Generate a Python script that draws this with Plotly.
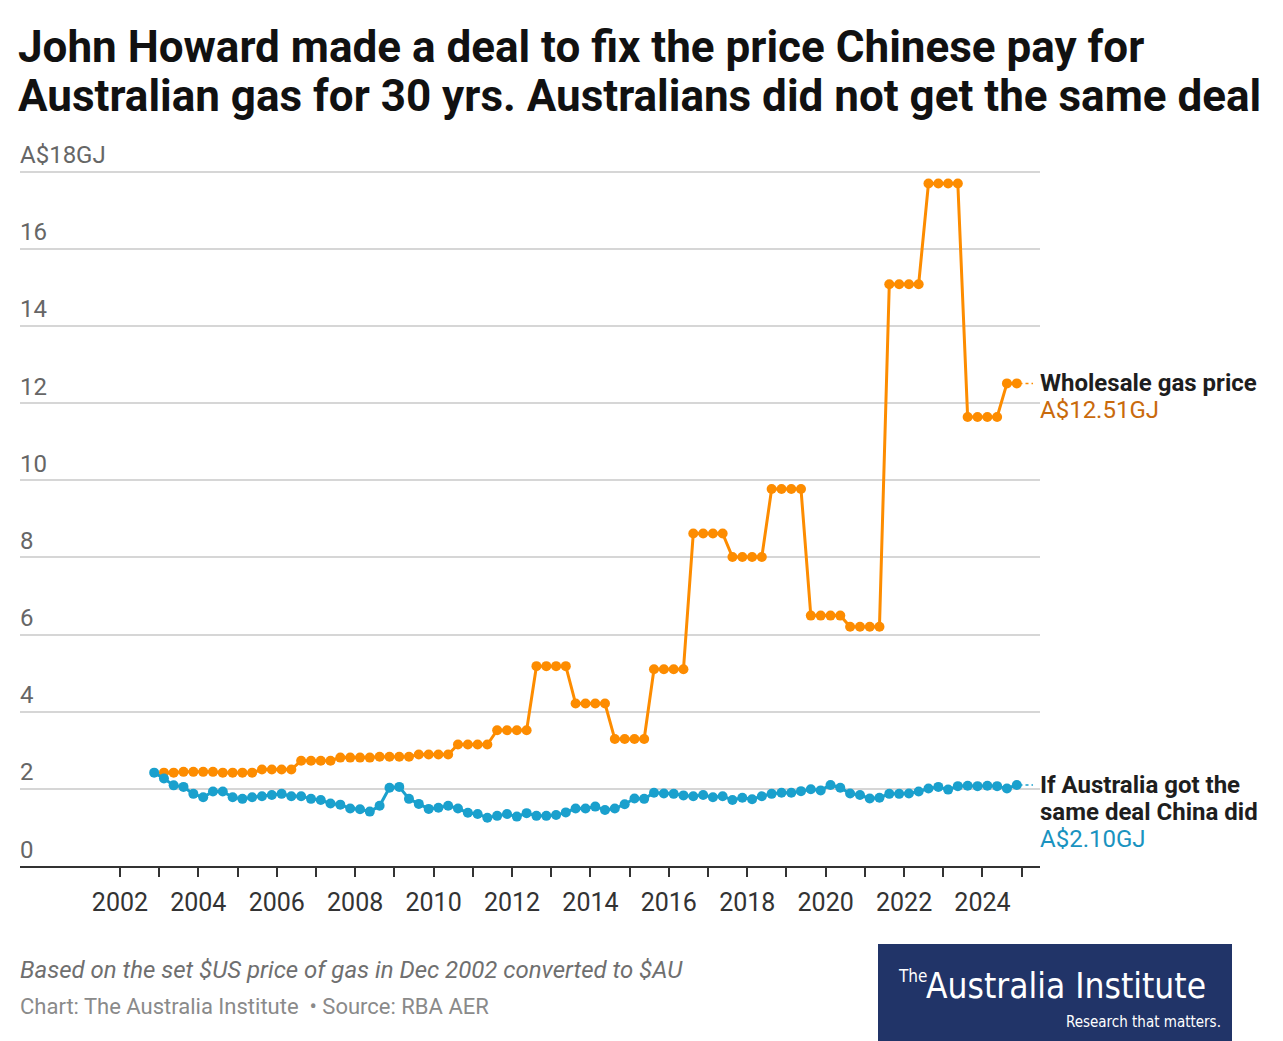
import pandas as pd
import plotly.graph_objects as go

# ---- data ----
# quarterly observations, Dec-quarter 2002 .. Dec-quarter 2024 (plotted at mid-quarter)
quarters = pd.period_range("2002Q4", "2024Q4", freq="Q")

china_deal_price = [
    2.42, 2.27, 2.09, 2.05, 1.87, 1.78, 1.93, 1.93, 1.78, 1.74,
    1.78, 1.81, 1.84, 1.87, 1.81, 1.81, 1.74, 1.71, 1.62, 1.59,
    1.49, 1.47, 1.41, 1.56, 2.03, 2.05, 1.74, 1.61, 1.48, 1.51,
    1.56, 1.49, 1.38, 1.35, 1.25, 1.30, 1.35, 1.28, 1.37, 1.30,
    1.30, 1.32, 1.39, 1.49, 1.49, 1.54, 1.45, 1.49, 1.60, 1.75,
    1.74, 1.90, 1.88, 1.87, 1.83, 1.81, 1.84, 1.78, 1.81, 1.71,
    1.77, 1.73, 1.81, 1.87, 1.90, 1.90, 1.94, 1.99, 1.96, 2.10,
    2.03, 1.88, 1.84, 1.75, 1.77, 1.87, 1.87, 1.88, 1.93, 2.01,
    2.05, 1.98, 2.07, 2.08, 2.07, 2.08, 2.07, 2.01, 2.10,
]

# wholesale price starts one quarter later (Mar-quarter 2003)
wholesale_price = [
    2.42, 2.42,
    2.44, 2.44, 2.44, 2.44,
    2.42, 2.42, 2.42, 2.42,
    2.50, 2.50, 2.50, 2.50,
    2.73, 2.73, 2.73, 2.73,
    2.81, 2.81, 2.81, 2.81,
    2.83, 2.83, 2.83, 2.83,
    2.89, 2.89, 2.89, 2.89,
    3.15, 3.15, 3.15, 3.15,
    3.52, 3.52, 3.52, 3.52,
    5.18, 5.18, 5.18, 5.18,
    4.21, 4.21, 4.21, 4.21,
    3.29, 3.29, 3.29, 3.29,
    5.10, 5.10, 5.10, 5.10,
    8.62, 8.62, 8.62, 8.62,
    8.01, 8.01, 8.01, 8.01,
    9.77, 9.77, 9.77, 9.77,
    6.49, 6.49, 6.49, 6.49,
    6.20, 6.20, 6.20, 6.20,
    15.08, 15.08, 15.08, 15.08,
    17.69, 17.69, 17.69, 17.69,
    11.64, 11.64, 11.64, 11.64,
    12.51, 12.51,
]

y_tick_values = [0, 2, 4, 6, 8, 10, 12, 14, 16, 18]
y_tick_labels = ["0", "2", "4", "6", "8", "10", "12", "14", "16", "A$18GJ"]

x_tick_years = list(range(2002, 2026))
x_tick_labels = [str(y) if y % 2 == 0 else "" for y in x_tick_years]

title_lines = [
    "John Howard made a deal to fix the price Chinese pay for",
    "Australian gas for 30 yrs. Australians did not get the same deal",
]

ORANGE = "#fd8c00"
ORANGE_TXT = "#c96a0c"
BLUE = "#1aa0cd"
BLUE_TXT = "#1a93c0"
FONT = "Roboto, Arial, sans-serif"

# pixel helpers (plot area: x 20..1040, y top 133 .. bottom 866)
TOP = 133
PLOT_H = 1041 - TOP - 175
def py2paper(py):
    return (866 - py) / PLOT_H

def px2paper(px):
    return (px - 20) / 1020

# ---- dates ----
def mid_quarter(p):
    return p.start_time + (p.end_time - p.start_time) / 2

blue_dates = [mid_quarter(p) for p in quarters]
orange_dates = blue_dates[1:]

fig = go.Figure()

fig.add_trace(go.Scatter(
    x=orange_dates, y=wholesale_price, mode="lines+markers",
    line=dict(color=ORANGE, width=3), marker=dict(color=ORANGE, size=10),
    name="Wholesale gas price", cliponaxis=False,
))
fig.add_trace(go.Scatter(
    x=blue_dates, y=china_deal_price, mode="lines+markers",
    line=dict(color=BLUE, width=3), marker=dict(color=BLUE, size=10),
    name="If Australia got the same deal China did", cliponaxis=False,
))

# dotted connectors to the labels
conn_end = blue_dates[-1] + pd.DateOffset(months=5)
for dates, vals, col in [(orange_dates, wholesale_price, ORANGE), (blue_dates, china_deal_price, BLUE)]:
    fig.add_trace(go.Scatter(
        x=[dates[-1] + pd.DateOffset(days=25), conn_end], y=[vals[-1], vals[-1]],
        mode="lines", line=dict(color=col, width=1.5, dash="dot"),
        hoverinfo="skip", cliponaxis=False,
    ))

# ---- right-hand labels ----
LINE = 27
def label(lines, yval):
    for i, (txt, col, bold) in enumerate(lines):
        fig.add_annotation(
            x=1, xref="paper", xanchor="left", y=yval, yref="y", yanchor="middle",
            yshift=-LINE * i, showarrow=False, xshift=-2,
            text=f"<b>{txt}</b>" if bold else txt,
            font=dict(family=FONT, size=24, color=col),
        )

label([("Wholesale gas price", "#1e1e1e", True),
       (f"A${wholesale_price[-1]:.2f}GJ", ORANGE_TXT, False)], wholesale_price[-1])
label([("If Australia got the", "#1e1e1e", True),
       ("same deal China did", "#1e1e1e", True),
       (f"A${china_deal_price[-1]:.2f}GJ", BLUE_TXT, False)], china_deal_price[-1])

# ---- title ----
for i, t in enumerate(title_lines):
    fig.add_annotation(x=0, xref="paper", xanchor="left", y=py2paper(47 + 49 * i), yref="paper",
                       yanchor="middle", showarrow=False, text=f"<b>{t}</b>", xshift=-4,
                       font=dict(family=FONT, size=44, color="#111111"))

# ---- footer ----
fig.add_annotation(x=0, xref="paper", xanchor="left", y=py2paper(970), yref="paper", yanchor="middle",
                   showarrow=False, text="<i>Based on the set $US price of gas in Dec 2002 converted to $AU</i>",
                   xshift=-2, font=dict(family=FONT, size=24, color="#6f6f6f"))
fig.add_annotation(x=0, xref="paper", xanchor="left", y=py2paper(1006), yref="paper", yanchor="middle",
                   showarrow=False, text="Chart: The Australia Institute  \u2022 Source: RBA AER",
                   xshift=-2, font=dict(family=FONT, size=22, color="#8a8a8a"))

# logo
fig.add_shape(type="rect", xref="paper", yref="paper",
              x0=px2paper(878), x1=px2paper(1232), y0=py2paper(1041), y1=py2paper(944),
              fillcolor="#213468", line=dict(width=0), layer="above")
NARROW = "Liberation Sans Narrow, DejaVu Sans Condensed, Arial Narrow, sans-serif"
fig.add_annotation(x=px2paper(896), xref="paper", xanchor="left", y=py2paper(976), yref="paper",
                   yanchor="middle", showarrow=False, text="The",
                   font=dict(family=NARROW, size=17, color="white"))
fig.add_annotation(x=px2paper(924), xref="paper", xanchor="left", y=py2paper(986), yref="paper",
                   yanchor="middle", showarrow=False, text="Australia Institute",
                   font=dict(family=NARROW, size=35, color="white"))
fig.add_annotation(x=px2paper(1223), xref="paper", xanchor="right", y=py2paper(1022), yref="paper",
                   yanchor="middle", showarrow=False, text="Research that matters.",
                   font=dict(family=NARROW, size=15, color="white"))

fig.update_layout(
    width=1283, height=1041,
    margin=dict(l=20, r=243, t=TOP, b=175),
    paper_bgcolor="white", plot_bgcolor="white",
    showlegend=False,
    font=dict(family=FONT),
    xaxis=dict(
        type="date",
        range=["1999-06-15", "2025-06-20"],
        tickvals=[f"{y}-01-01" for y in x_tick_years], ticktext=x_tick_labels,
        ticks="outside", ticklen=9, tickwidth=2, tickcolor="#333333",
        ticklabelstandoff=4,
        showgrid=False, showline=True, linecolor="#333333", linewidth=2,
        tickfont=dict(family=FONT, size=25, color="#333333"),
        zeroline=False,
    ),
    yaxis=dict(
        range=[0, 19],
        tickvals=y_tick_values, ticktext=y_tick_labels,
        ticklabelposition="inside top",
        ticklabelstandoff=-3,
        showgrid=True, gridcolor="#d6d6d6", gridwidth=1.5,
        zeroline=False, showline=False, ticks="",
        tickfont=dict(family=FONT, size=24, color="#666666"),
    ),
)

fig.write_html("out.html")
